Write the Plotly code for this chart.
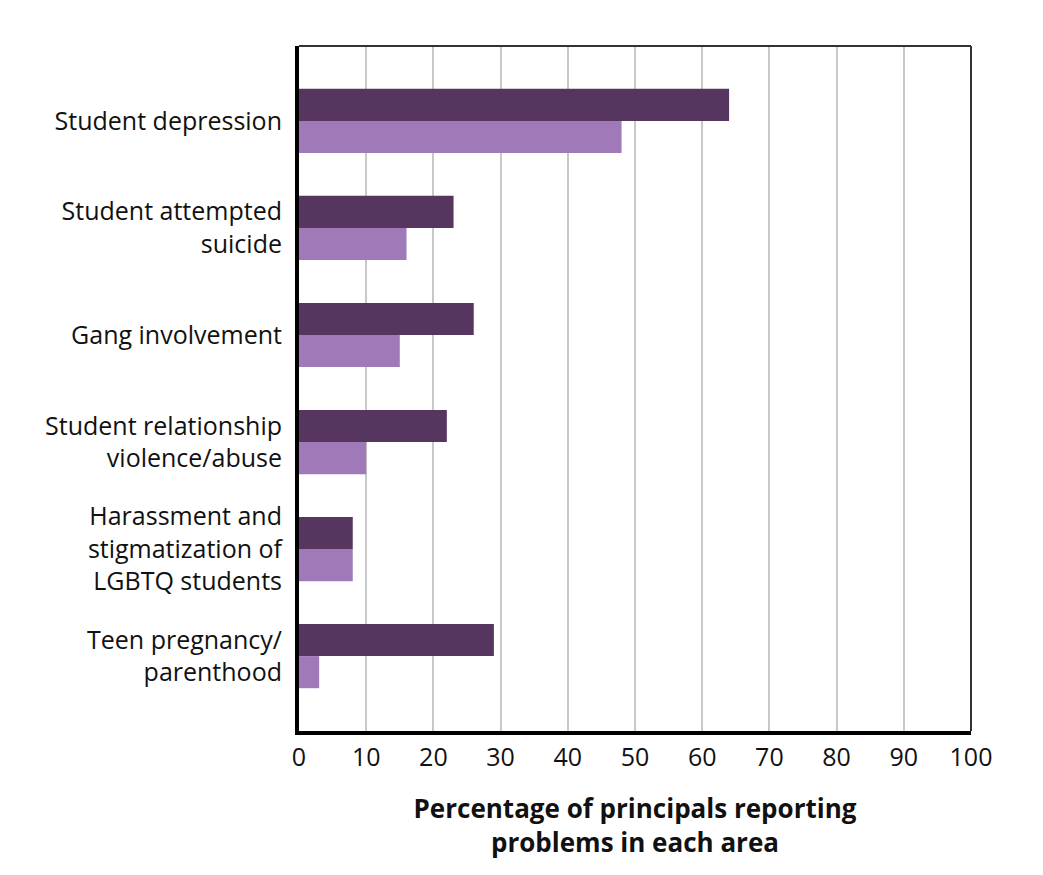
import plotly.graph_objects as go

categories = [
    "Student depression",
    "Student attempted<br>suicide",
    "Gang involvement",
    "Student relationship<br>violence/abuse",
    "Harassment and<br>stigmatization of<br>LGBTQ students",
    "Teen pregnancy/<br>parenthood",
]
series_dark = [64, 23, 26, 22, 8, 29]
series_light = [48, 16, 15, 10, 8, 3]
x_ticks = [0, 10, 20, 30, 40, 50, 60, 70, 80, 90, 100]

FONT = "Open Sans"

fig = go.Figure()
fig.add_trace(go.Bar(y=categories, x=series_dark, orientation="h",
                     marker=dict(color="#56365F", line=dict(width=0)),
                     name="Dark", showlegend=False))
fig.add_trace(go.Bar(y=categories, x=series_light, orientation="h",
                     marker=dict(color="#A07AB8", line=dict(width=0)),
                     name="Light", showlegend=False))

fig.update_layout(
    width=1043, height=875,
    margin=dict(l=291, r=80, t=38, b=152),
    paper_bgcolor="white", plot_bgcolor="white",
    barmode="group", bargap=0.4, bargroupgap=0,
    font=dict(family=FONT, size=24, color="#111111"),
)
fig.update_xaxes(
    range=[0, 100], tickvals=x_ticks, ticktext=[str(v) for v in x_ticks],
    showgrid=True, gridcolor="#C8C8C8", gridwidth=2,
    showline=True, linecolor="black", linewidth=4,
    ticks="", ticklabelstandoff=1,
    tickfont=dict(size=25, family=FONT, weight=500),
    zeroline=False,
    title=dict(text="<b>Percentage of principals reporting<br>problems in each area</b>",
               font=dict(size=26, family=FONT), standoff=29),
)
fig.update_yaxes(
    type="category", range=[5.7, -0.7],
    showgrid=False, showline=True, linecolor="black", linewidth=4,
    ticks="", ticklabelstandoff=8,
    tickfont=dict(size=25, family=FONT, weight=500),
)
# thin top and right frame
fig.add_shape(type="line", xref="paper", yref="paper", x0=0, x1=1, y0=1, y1=1,
              line=dict(color="#333333", width=2))
fig.add_shape(type="line", xref="paper", yref="paper", x0=1, x1=1, y0=0, y1=1,
              line=dict(color="#333333", width=2))

fig.write_html("out.html")
